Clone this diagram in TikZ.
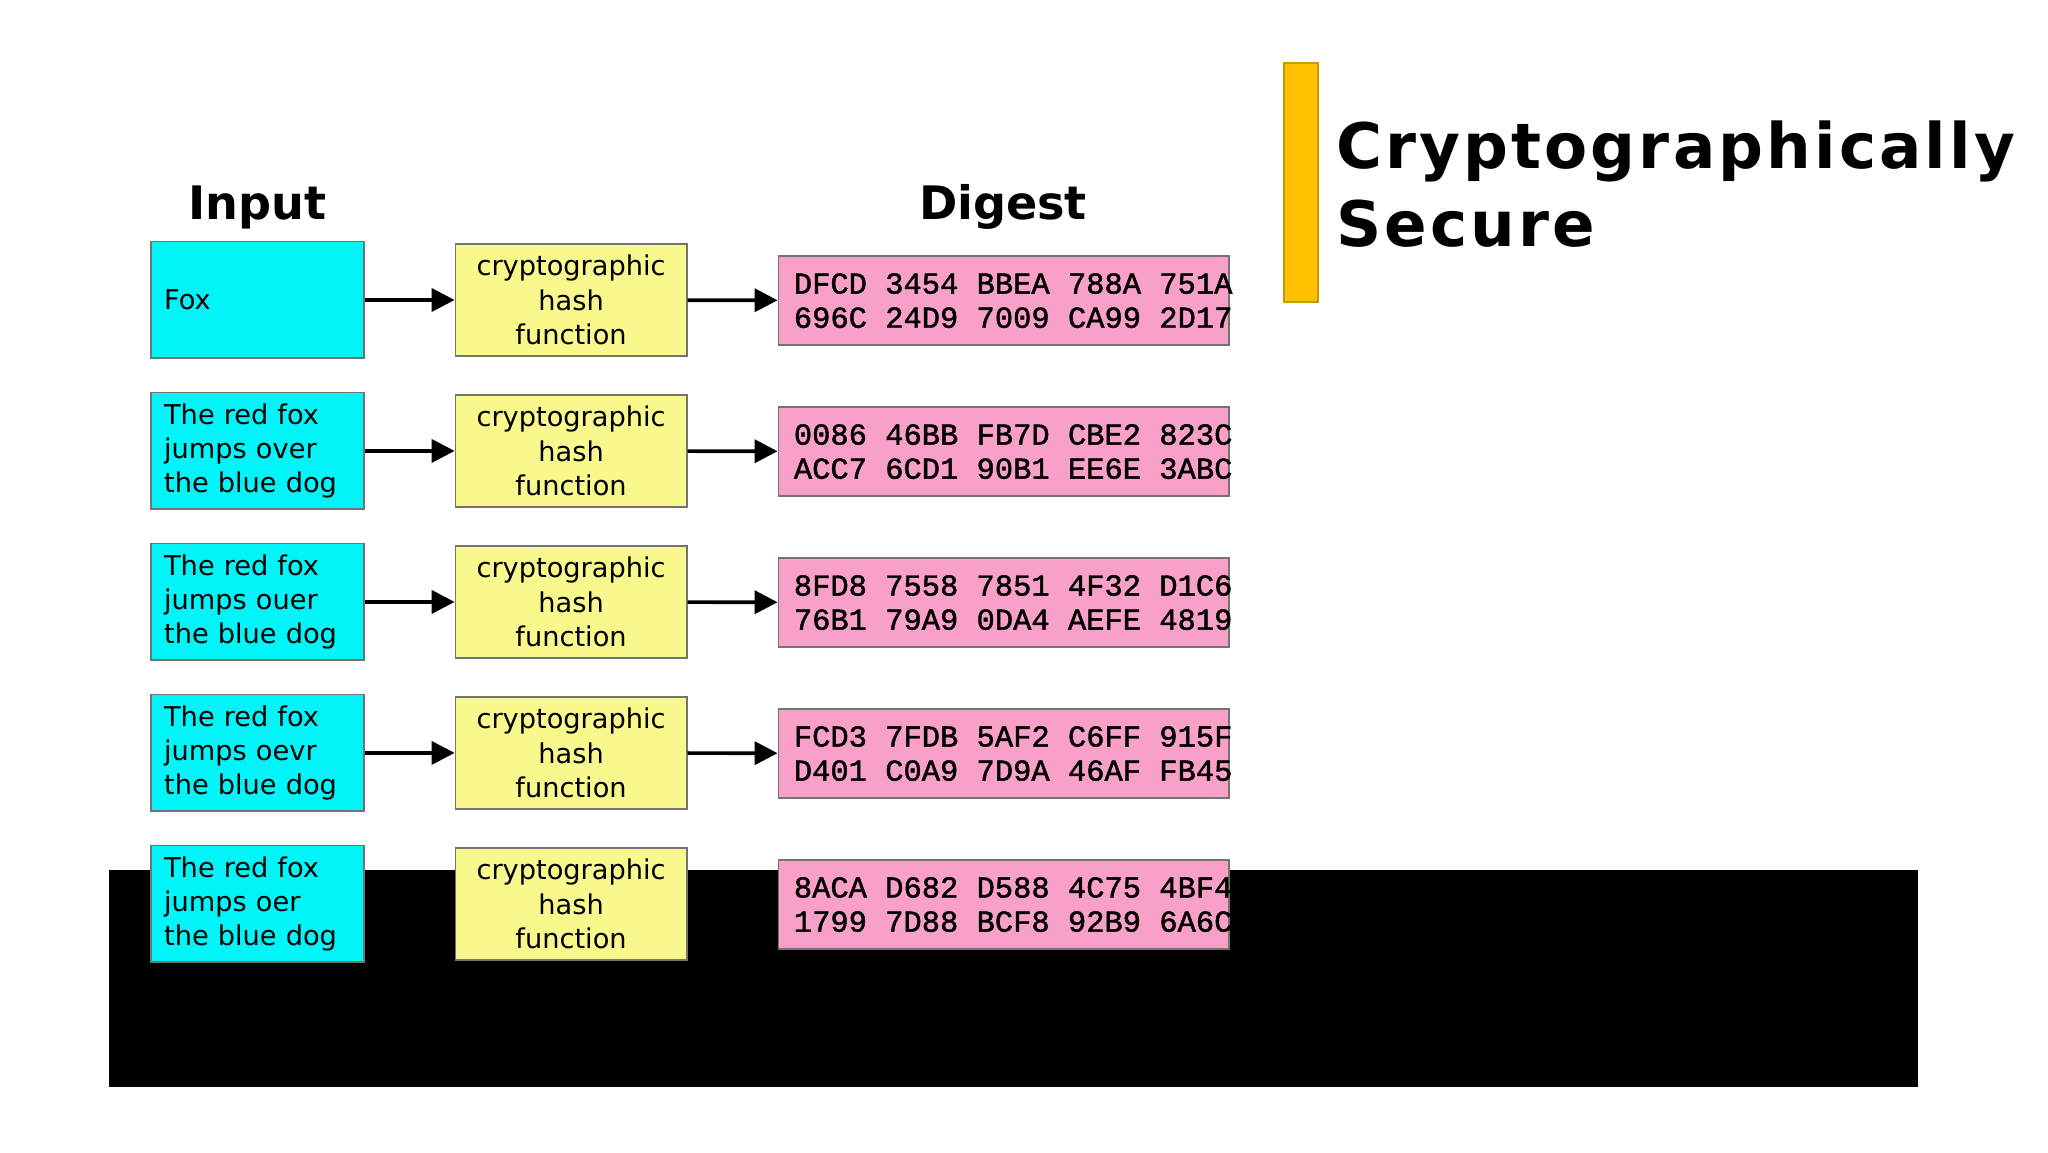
\documentclass[tikz,border=0pt]{standalone}
\usepackage{fontspec}
\setmainfont{DejaVu Sans}
\newfontfamily\digfont{Liberation Mono}[FakeBold=1.5]
\newfontfamily\titlefont{DejaVu Sans}[LetterSpace=5]
\usetikzlibrary{arrows.meta}
\definecolor{incol}{HTML}{00F5F8}
\definecolor{hashcol}{HTML}{F8F88C}
\definecolor{digcol}{HTML}{F8A0C8}
\definecolor{barcol}{HTML}{FFC000}

\begin{document}
\begin{tikzpicture}[
  inbox/.style={draw=black!55,fill=incol,minimum width=1.62cm,minimum height=0.89cm,
    text width=1.42cm,align=left,inner sep=0pt,font=\fontsize{5.9}{7.4}\selectfont},
  hashbox/.style={draw=black!55,fill=hashcol,minimum width=1.76cm,minimum height=0.85cm,
    align=center,inner sep=0pt,font=\fontsize{5.9}{7.4}\selectfont},
  digbox/.style={draw=black!55,fill=digcol,minimum width=3.43cm,minimum height=0.68cm},
  digtext/.style={anchor=west,align=left,inner sep=0pt,font=\digfont\fontsize{6.6}{7.4}\selectfont},
  header/.style={font=\bfseries\fontsize{10}{12}\selectfont},
  title/.style={anchor=base west,inner sep=0pt,font=\titlefont\bfseries\fontsize{13.6}{16}\selectfont},
  link/.style={-{Triangle[length=5pt,width=5pt]},thick}
]
\useasboundingbox (0,0) rectangle (15.6,-8.775);

% black band at the bottom
\fill[black] (0.83,-6.63) rectangle (14.61,-8.28);

% title
\fill[barcol,draw=barcol!80!black] (9.78,-0.48) rectangle (10.04,-2.30);
\node[title] (title1) at (10.17,-1.28) {Cryptographically};
\node[title] (title2) at (10.17,-1.88) {Secure};

\node[header] (inhead) at (1.96,-1.58) {Input};
\node[header] (dighead) at (7.64,-1.58) {Digest};

\foreach \i/\txt/\da/\db in {
  1/{Fox}/{DFCD 3454 BBEA 788A 751A}/{696C 24D9 7009 CA99 2D17},
  2/{The red fox\\jumps over\\the blue dog}/{0086 46BB FB7D CBE2 823C}/{ACC7 6CD1 90B1 EE6E 3ABC},
  3/{The red fox\\jumps ouer\\the blue dog}/{8FD8 7558 7851 4F32 D1C6}/{76B1 79A9 0DA4 AEFE 4819},
  4/{The red fox\\jumps oevr\\the blue dog}/{FCD3 7FDB 5AF2 C6FF 915F}/{D401 C0A9 7D9A 46AF FB45},
  5/{The red fox\\jumps oer\\the blue dog}/{8ACA D682 D588 4C75 4BF4}/{1799 7D88 BCF8 92B9 6A6C}}{
  \node[inbox] (in\i) at (1.96,{-2.285-1.15*(\i-1)}) {\txt};
  \node[hashbox] (hash\i) at (4.35,{-2.285-1.15*(\i-1)}) {cryptographic\\hash\\function};
  \node[digbox] (dig\i) at (7.645,{-2.29-1.15*(\i-1)}) {};
  \node[digtext] (dtxt\i) at (6.04,{-2.29-1.15*(\i-1)}) {\da\\\db};
}

\foreach \i in {1,...,4}{
  \draw[link] (in\i) -- (hash\i);
  \draw[link] (hash\i) -- (dig\i);
}
\end{tikzpicture}
\end{document}
